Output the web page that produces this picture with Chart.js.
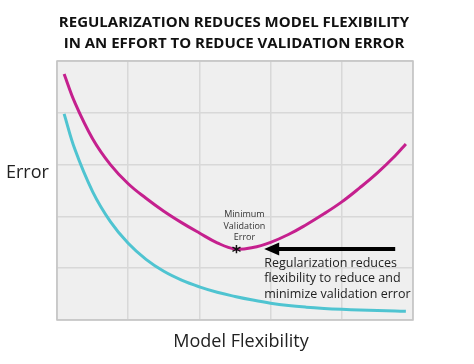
<!DOCTYPE html>
<html lang="en">
<head>
    <meta charset="UTF-8">
    <title>Regularization reduces model flexibility</title>
    <style>
        html, body {
            margin: 0;
            padding: 0;
            background: #ffffff;
        }
        .chart-container {
            position: relative;
            width: 474px;
            height: 364px;
        }
    </style>
</head>
<body>
    <div class="chart-container">
        <canvas id="errorChart"></canvas>
    </div>

    <script src="https://cdn.jsdelivr.net/npm/chart.js"></script>
    <script>
        // model flexibility (x) and errors
        const flexibility = [0.10, 0.25, 0.50, 0.75, 1.00, 1.25, 1.50, 1.75, 2.00, 2.25, 2.50,
                             2.75, 3.00, 3.25, 3.50, 3.75, 4.00, 4.25, 4.50, 4.75, 4.90];
        const validationError = [4.75, 4.20, 3.50, 3.00, 2.63, 2.35, 2.10, 1.88, 1.68, 1.49, 1.37,
                                 1.40, 1.50, 1.65, 1.84, 2.05, 2.28, 2.55, 2.84, 3.17, 3.40];
        const trainingError = [3.98, 3.30, 2.48, 1.90, 1.48, 1.17, 0.94, 0.77, 0.64, 0.535, 0.455,
                               0.385, 0.325, 0.28, 0.248, 0.224, 0.206, 0.192, 0.181, 0.173, 0.169];

        const gridTicks = [0, 1, 2, 3, 4, 5];
        const titleLines = ['REGULARIZATION REDUCES MODEL FLEXIBILITY', 'IN AN EFFORT TO REDUCE VALIDATION ERROR'];
        const minLabel = ['Minimum', 'Validation', 'Error'];
        const noteLines = ['Regularization reduces', 'flexibility to reduce and', 'minimize validation error'];
        const minPoint = [2.52, 1.36];
        const arrowFrom = [4.75, 1.37];
        const arrowTo = [2.91, 1.37];

        const toPoints = (xs, ys) => xs.map((x, i) => ({ x: x, y: ys[i] }));

        // background of the plot area
        const plotBackground = {
            id: 'plotBackground',
            beforeDraw(chart) {
                const { ctx, chartArea: a } = chart;
                ctx.save();
                ctx.fillStyle = '#efefef';
                ctx.fillRect(a.left, a.top, a.right - a.left, a.bottom - a.top);
                ctx.restore();
            }
        };

        // title, axis labels and the annotation
        const annotations = {
            id: 'annotations',
            afterDraw(chart) {
                const { ctx, chartArea: a, scales } = chart;
                const xs = scales.x, ys = scales.y;
                ctx.save();

                ctx.strokeStyle = '#c4c4c4';
                ctx.lineWidth = 1.5;
                ctx.strokeRect(a.left, a.top, a.right - a.left, a.bottom - a.top);

                ctx.fillStyle = '#111';
                ctx.textAlign = 'center';
                ctx.textBaseline = 'middle';
                ctx.font = 'bold 15px "Open Sans"';
                ctx.fillText(titleLines[0], 234, 23);
                ctx.fillText(titleLines[1], 234, 44);

                ctx.font = '18px "Open Sans"';
                ctx.fillStyle = '#222';
                ctx.fillText('Model Flexibility', 241, 342);
                ctx.textAlign = 'left';
                ctx.fillText('Error', 6, 173);

                // minimum marker
                const mx = xs.getPixelForValue(minPoint[0]);
                const my = ys.getPixelForValue(minPoint[1]);
                ctx.textAlign = 'center';
                ctx.font = 'bold 18px "DejaVu Sans"';
                ctx.fillStyle = '#111';
                ctx.fillText('*', mx, my + 4);

                ctx.font = '9px "Open Sans"';
                ctx.fillStyle = '#333';
                minLabel.forEach((t, i) => ctx.fillText(t, mx + 8, my - 35 + i * 11.5));

                // arrow
                const x1 = xs.getPixelForValue(arrowFrom[0]);
                const x2 = xs.getPixelForValue(arrowTo[0]);
                const y1 = ys.getPixelForValue(arrowFrom[1]);
                ctx.strokeStyle = '#000';
                ctx.lineWidth = 4;
                ctx.beginPath();
                ctx.moveTo(x1, y1);
                ctx.lineTo(x2 + 12, y1);
                ctx.stroke();
                ctx.fillStyle = '#000';
                ctx.beginPath();
                ctx.moveTo(x2, y1);
                ctx.lineTo(x2 + 15, y1 - 6.5);
                ctx.lineTo(x2 + 15, y1 + 6.5);
                ctx.closePath();
                ctx.fill();

                ctx.textAlign = 'left';
                ctx.font = '12.5px "Open Sans"';
                ctx.fillStyle = '#222';
                noteLines.forEach((t, i) => ctx.fillText(t, x2, y1 + 14 + i * 15.5));

                ctx.restore();
            }
        };

        const ctx = document.getElementById('errorChart').getContext('2d');
        const errorChart = new Chart(ctx, {
            type: 'scatter',
            data: {
                datasets: [{
                    label: 'Validation error',
                    data: toPoints(flexibility, validationError),
                    showLine: true,
                    borderColor: '#c5208e',
                    borderWidth: 3,
                    pointRadius: 0,
                    tension: 0.4
                }, {
                    label: 'Training error',
                    data: toPoints(flexibility, trainingError),
                    showLine: true,
                    borderColor: '#4fc4d1',
                    borderWidth: 3,
                    pointRadius: 0,
                    tension: 0.4
                }]
            },
            options: {
                responsive: true,
                maintainAspectRatio: false,
                animation: false,
                layout: {
                    padding: { left: 57, right: 61, top: 61, bottom: 44 }
                },
                plugins: {
                    legend: { display: false },
                    tooltip: { enabled: false }
                },
                scales: {
                    x: {
                        type: 'linear',
                        min: 0,
                        max: 5,
                        afterBuildTicks: (axis) => { axis.ticks = gridTicks.map(v => ({ value: v })); },
                        ticks: { display: false },
                        grid: { color: '#d8d8d8', lineWidth: 1.5, drawTicks: false },
                        border: { display: false }
                    },
                    y: {
                        type: 'linear',
                        min: 0,
                        max: 5,
                        afterBuildTicks: (axis) => { axis.ticks = gridTicks.map(v => ({ value: v })); },
                        ticks: { display: false },
                        grid: { color: '#d8d8d8', lineWidth: 1.5, drawTicks: false },
                        border: { display: false }
                    }
                }
            },
            plugins: [plotBackground, annotations]
        });
    </script>
</body>
</html>
